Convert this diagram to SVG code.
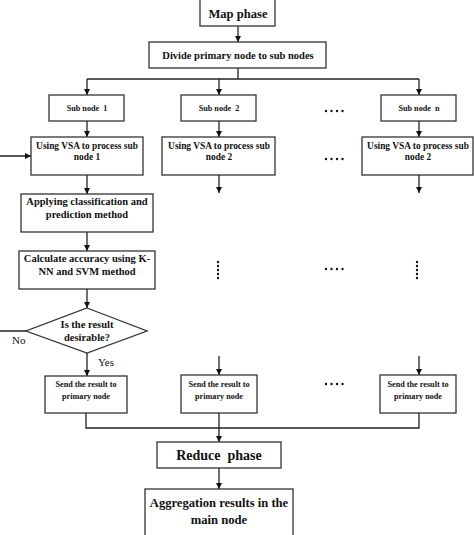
<svg xmlns="http://www.w3.org/2000/svg" width="474" height="535" viewBox="0 0 474 535">
<style>
.box{fill:#fff;stroke:#333;stroke-width:1.3}
.ln{fill:none;stroke:#222;stroke-width:1.3}
text{font-family:"Liberation Serif","Times New Roman",serif;font-weight:bold;fill:#111;text-anchor:middle}
.t13{font-size:12.6px}
.t10{font-size:10.5px}
.t9{font-size:9.4px}
.t8{font-size:8.2px}
.lab{font-weight:normal;font-size:11px;text-anchor:start}
.dot{fill:#111}
</style>
<defs>
<marker id="ah" viewBox="0 0 10 10" refX="10" refY="5" markerWidth="6" markerHeight="7" markerUnits="userSpaceOnUse" orient="auto">
<path d="M0,0 L10,5 L0,10 z" fill="#111"/>
</marker>
</defs>
<g id="connectors">
<line class="ln" x1="238" y1="26" x2="238" y2="42" marker-end="url(#ah)"/>
<line class="ln" x1="238" y1="68" x2="238" y2="79"/>
<line class="ln" x1="87" y1="79" x2="419" y2="79"/>
<line class="ln" x1="87" y1="79" x2="87" y2="95" marker-end="url(#ah)"/>
<line class="ln" x1="219" y1="79" x2="219" y2="95" marker-end="url(#ah)"/>
<line class="ln" x1="419" y1="79" x2="419" y2="95" marker-end="url(#ah)"/>
<line class="ln" x1="87" y1="121" x2="87" y2="137" marker-end="url(#ah)"/>
<line class="ln" x1="219" y1="121" x2="219" y2="137" marker-end="url(#ah)"/>
<line class="ln" x1="419" y1="121" x2="419" y2="137" marker-end="url(#ah)"/>
<line class="ln" x1="87" y1="175" x2="87" y2="194" marker-end="url(#ah)"/>
<line class="ln" x1="219" y1="175" x2="219" y2="193" marker-end="url(#ah)"/>
<line class="ln" x1="419" y1="175" x2="419" y2="193" marker-end="url(#ah)"/>
<line class="ln" x1="87" y1="232" x2="87" y2="251" marker-end="url(#ah)"/>
<line class="ln" x1="87" y1="289" x2="87" y2="308" marker-end="url(#ah)"/>
<polyline class="ln" points="26,331 -2,331 -2,156 31,156" marker-end="url(#ah)"/>
<line class="ln" x1="87" y1="353" x2="87" y2="376" marker-end="url(#ah)"/>
<line class="ln" x1="219" y1="356" x2="219" y2="375" marker-end="url(#ah)"/>
<line class="ln" x1="419" y1="356" x2="419" y2="375" marker-end="url(#ah)"/>
<polyline class="ln" points="86,413 86,428 419,428 419,413"/>
<line class="ln" x1="219" y1="413" x2="219" y2="428"/>
<line class="ln" x1="219" y1="428" x2="219" y2="442" marker-end="url(#ah)"/>
<line class="ln" x1="219" y1="468" x2="219" y2="489" marker-end="url(#ah)"/>
</g>
<g id="map-phase"><rect class="box" x="200" y="-2" width="75" height="28"/><text class="t13" x="238" y="18">Map phase</text></g>
<g id="divide"><rect class="box" x="149" y="42" width="177" height="26"/><text class="t10" x="238" y="58.5">Divide primary node to sub nodes</text></g>
<g id="sub1"><rect class="box" x="49" y="95" width="75" height="26"/><text class="t8" x="87" y="111" xml:space="preserve">Sub node  1</text></g>
<g id="sub2"><rect class="box" x="181" y="95" width="75" height="26"/><text class="t8" x="219" y="111" xml:space="preserve">Sub node  2</text></g>
<g id="subn"><rect class="box" x="381" y="95" width="75" height="26"/><text class="t8" x="419" y="111" xml:space="preserve">Sub node  n</text></g>
<g id="vsa1"><rect class="box" x="31" y="137" width="112" height="38"/><text class="t9" x="87" y="149">Using VSA to process sub</text><text class="t9" x="87" y="160">node 1</text></g>
<g id="vsa2"><rect class="box" x="162" y="137" width="113" height="38"/><text class="t9" x="219" y="149">Using VSA to process sub</text><text class="t9" x="219" y="160">node 2</text></g>
<g id="vsan"><rect class="box" x="362" y="137" width="111" height="38"/><text class="t9" x="418" y="149">Using VSA to process sub</text><text class="t9" x="418" y="160">node 2</text></g>
<g id="apply"><rect class="box" x="21" y="194" width="132" height="38"/><text class="t10" x="87" y="205">Applying classification and</text><text class="t10" x="87" y="217.5">prediction method</text></g>
<g id="calc"><rect class="box" x="19" y="251" width="136" height="38"/><text class="t10" x="87" y="262">Calculate accuracy using K-</text><text class="t10" x="87" y="275">NN and SVM method</text></g>
<g id="decision"><polygon class="box" points="87,308 147,331 87,353 26,331"/><text class="t10" x="87" y="328">Is the result</text><text class="t10" x="87" y="340.5">desirable?</text></g>
<g id="send1"><rect class="box" x="45" y="376" width="82" height="37"/><text class="t8" x="86" y="387">Send the result to</text><text class="t8" x="86" y="398.5">primary node</text></g>
<g id="send2"><rect class="box" x="181" y="375" width="76" height="38"/><text class="t8" x="219" y="387">Send the result to</text><text class="t8" x="219" y="398.5">primary node</text></g>
<g id="sendn"><rect class="box" x="380" y="375" width="76" height="38"/><text class="t8" x="418" y="387">Send the result to</text><text class="t8" x="418" y="398.5">primary node</text></g>
<g id="reduce"><rect class="box" x="157" y="442" width="124" height="26"/><text class="t13" x="219" y="460" style="font-size:14px" xml:space="preserve">Reduce  phase</text></g>
<g id="aggregate"><rect class="box" x="145" y="489" width="148" height="50"/><text class="t13" x="219" y="507">Aggregation results in the</text><text class="t13" x="219" y="524">main node</text></g>
<g id="labels"><text class="lab" x="12" y="344">No</text><text class="lab" x="98" y="366">Yes</text></g>
<g id="ellipses">
<circle class="dot" cx="326" cy="111" r="1.2"/><circle class="dot" cx="331.5" cy="111" r="1.2"/><circle class="dot" cx="337" cy="111" r="1.2"/><circle class="dot" cx="342.5" cy="111" r="1.2"/>
<circle class="dot" cx="326" cy="159" r="1.2"/><circle class="dot" cx="331.5" cy="159" r="1.2"/><circle class="dot" cx="337" cy="159" r="1.2"/><circle class="dot" cx="342.5" cy="159" r="1.2"/>
<circle class="dot" cx="326" cy="269" r="1.2"/><circle class="dot" cx="331.5" cy="269" r="1.2"/><circle class="dot" cx="337" cy="269" r="1.2"/><circle class="dot" cx="342.5" cy="269" r="1.2"/>
<circle class="dot" cx="326" cy="384" r="1.2"/><circle class="dot" cx="331.5" cy="384" r="1.2"/><circle class="dot" cx="337" cy="384" r="1.2"/><circle class="dot" cx="342.5" cy="384" r="1.2"/>
<circle class="dot" cx="218" cy="262" r="1.2"/><circle class="dot" cx="218" cy="266" r="1.2"/><circle class="dot" cx="218" cy="270" r="1.2"/><circle class="dot" cx="218" cy="274" r="1.2"/><circle class="dot" cx="218" cy="278" r="1.2"/>
<circle class="dot" cx="417" cy="262" r="1.2"/><circle class="dot" cx="417" cy="266" r="1.2"/><circle class="dot" cx="417" cy="270" r="1.2"/><circle class="dot" cx="417" cy="274" r="1.2"/><circle class="dot" cx="417" cy="278" r="1.2"/>
</g>
</svg>
